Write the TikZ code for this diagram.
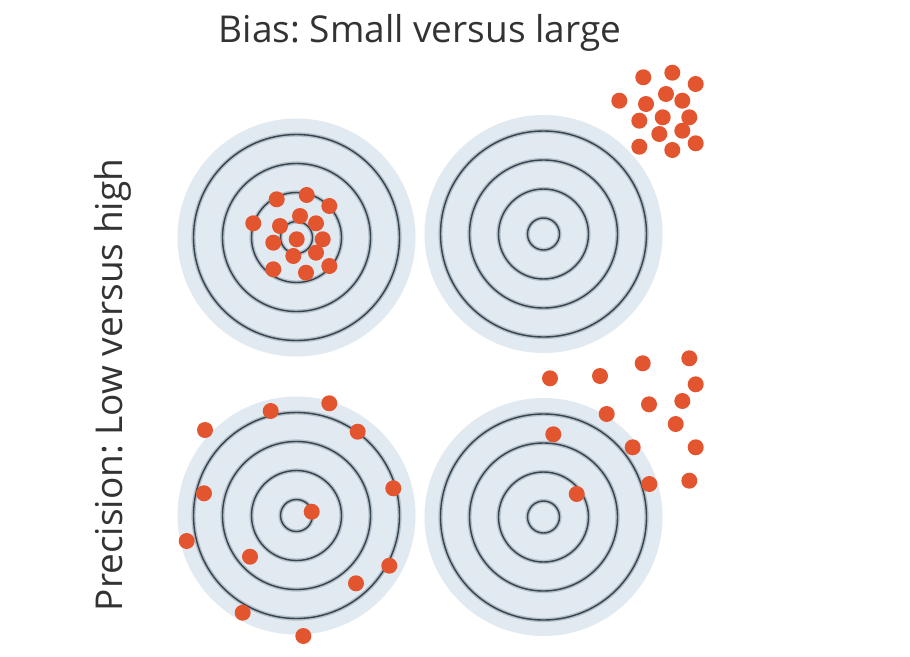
\documentclass[tikz,border=0pt]{standalone}
\usepackage{fontspec}
\setmainfont{Open Sans}
\frenchspacing
\definecolor{diskc}{HTML}{E1E9F1}
\definecolor{haloc}{HTML}{B3BEC8}
\definecolor{ringc}{HTML}{36444E}
\definecolor{dotc}{HTML}{E2552F}
\definecolor{textc}{HTML}{333333}
\tikzset{
  disk/.style={fill=diskc},
  halo/.style={draw=haloc, line width=4.2pt},
  ringline/.style={draw=ringc, line width=1.4pt},
  shot/.style={fill=dotc},
  lbl/.style={font=\fontsize{37}{40}\selectfont, text=textc, inner sep=0pt}
}
\newcommand{\target}[2]{%
  \fill[disk] (#1,#2) circle (119);
  \foreach \r in {103,74,45,16}{
    \draw[halo] (#1,#2) circle (\r);
    \draw[ringline] (#1,#2) circle (\r);
  }
}
\begin{document}
\begin{tikzpicture}[x=1pt,y=-1pt]
\useasboundingbox (0,0) rectangle (910,656);
\fill[white] (0,0) rectangle (910,656);
\target{296.5}{237.5}
\target{543.5}{234}
\target{296.5}{515.5}
\target{543.5}{517}
% top-left: small bias, high precision
\foreach \x/\y in {276.7/199.3,306.7/195,329.3/206,253.3/223.3,300/216,316/223.3,280/226,296.7/239.3,322.7/239.3,273.3/242.7,293.3/256,316/252.7,273.3/269.3,306/272.7,329.3/266}
  \fill[shot] (\x,\y) circle (8);
% top-right: large bias, high precision
\foreach \x/\y in {643.3/77.3,672.3/72.7,695.7/84,619.3/100.7,666/94,646/104,682.3/100.7,639.3/120.7,662.7/117.3,689.3/117.3,659.3/134,682.3/130.7,639.3/146.7,672.3/150,695.7/143.3}
  \fill[shot] (\x,\y) circle (8);
% bottom-left: small bias, low precision
\foreach \x/\y in {329.3/403.3,270.7/411,205/430,357.7/431.7,204/493.3,393.3/488.3,311.7/511.7,186.7/541,250/556.7,389.3/565.7,356/583.3,242.7/612.7,303.3/636}
  \fill[shot] (\x,\y) circle (8);
% bottom-right: large bias, low precision
\foreach \x/\y in {550/378.3,600/376,642.7/363.3,689.3/358.3,695.7/384.3,649/404.3,682.3/401,606.7/414,675.7/424,553.3/434.3,632.7/447.3,695.7/447.3,649.3/484,689.3/480.7,576.7/494}
  \fill[shot] (\x,\y) circle (8);
\node[lbl, anchor=base] (bias) at (420,42.7) {Bias: Small versus large};
\node[lbl, anchor=base, rotate=90] (prec) at (122.7,385) {Precision: Low versus high};
\end{tikzpicture}
\end{document}
